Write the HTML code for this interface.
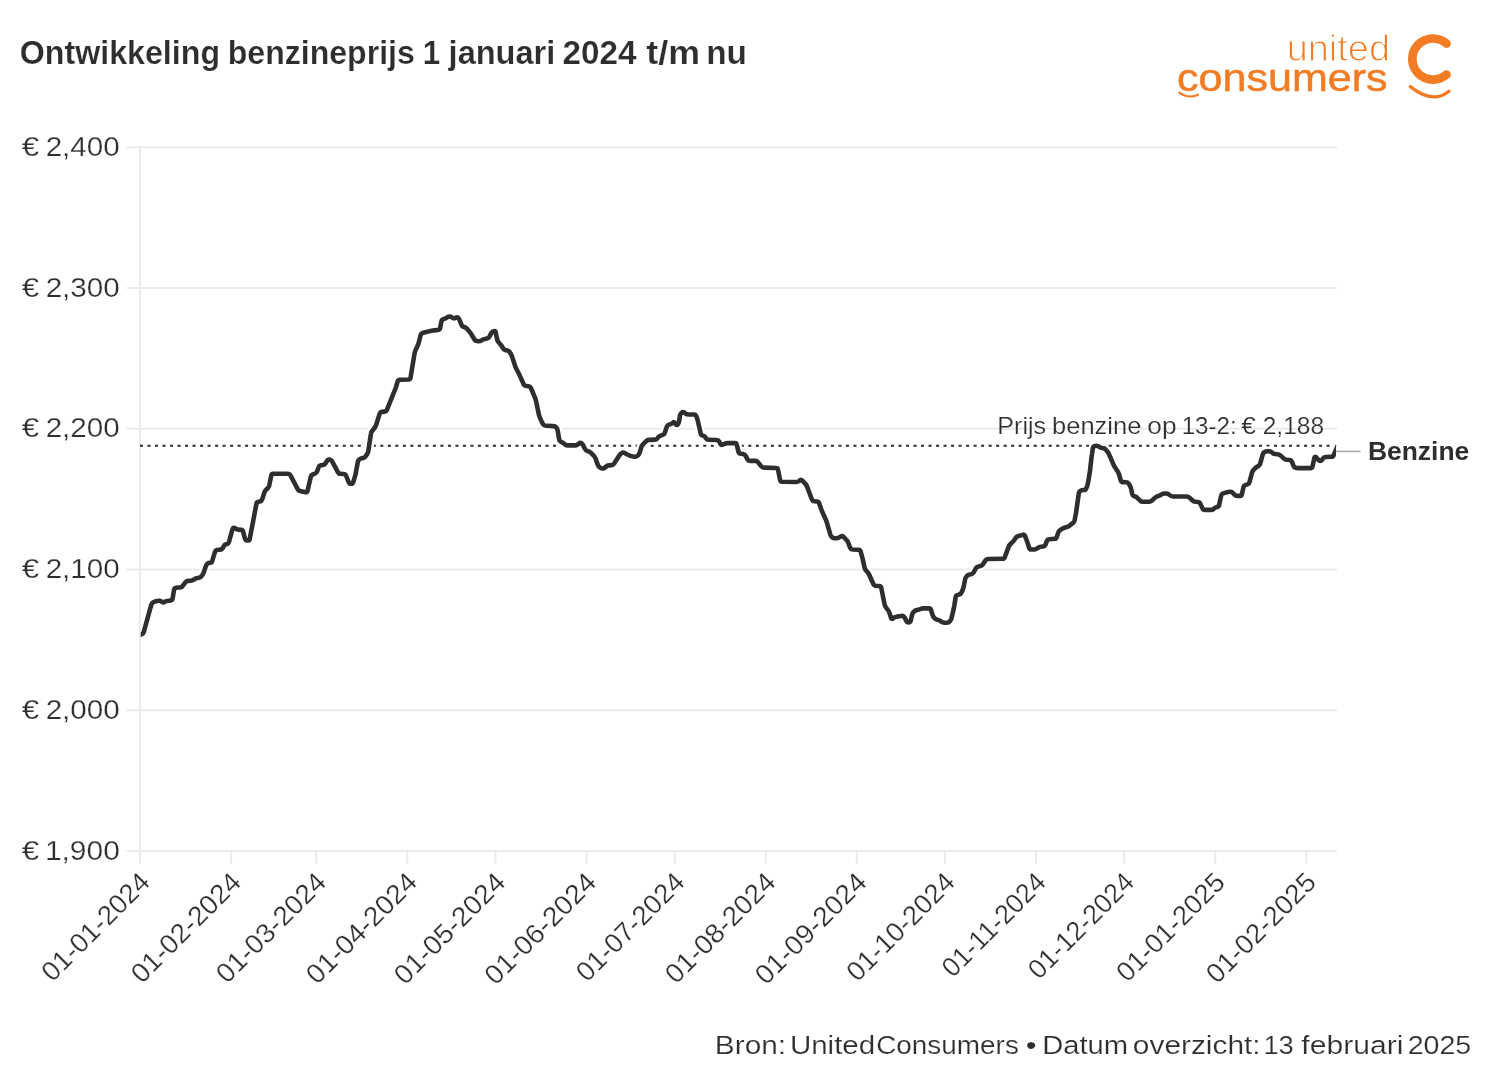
<!DOCTYPE html>
<html lang="nl"><head><meta charset="utf-8"><title>Ontwikkeling benzineprijs</title>
<style>
html,body{margin:0;padding:0;background:#fff;}
body{width:1491px;height:1080px;overflow:hidden;font-family:"Liberation Sans", sans-serif;}
svg{display:block;}
text{font-family:"Liberation Sans", sans-serif;}
.ax{fill:#2e2e2e;font-size:27.2px;stroke:#fff;stroke-width:0.25px;}
.t{fill:#2e2e2e;font-size:32.8px;font-weight:bold;stroke:#fff;stroke-width:0.2px;}
.f{fill:#2e2e2e;font-size:26.6px;stroke:#fff;stroke-width:0.2px;}
.an{fill:#2e2e2e;font-size:23.7px;stroke:#fff;stroke-width:0.2px;}
.bz{fill:#2e2e2e;font-size:26.7px;font-weight:bold;}
.lu{fill:#f27c24;font-size:36.6px;stroke:#fff;stroke-width:1.1px;}
.lc{fill:#f27c24;font-size:39.3px;stroke:#f27c24;stroke-width:0.5px;}
</style></head><body>
<svg width="1491" height="1080" viewBox="0 0 1491 1080">
<rect width="1491" height="1080" fill="#fff"/>

<g stroke="#eaeaea" stroke-width="2" fill="none">
<line x1="126.6" y1="147.3" x2="1336.9" y2="147.3"/>
<line x1="126.6" y1="288.05" x2="1336.9" y2="288.05"/>
<line x1="126.6" y1="428.8" x2="1336.9" y2="428.8"/>
<line x1="126.6" y1="569.55" x2="1336.9" y2="569.55"/>
<line x1="126.6" y1="710.3" x2="1336.9" y2="710.3"/>
<line x1="126.6" y1="851.0" x2="1336.9" y2="851.0"/>
<line x1="140" y1="147.3" x2="140" y2="863.7"/>
<line x1="231.1" y1="851" x2="231.1" y2="863.7"/>
<line x1="316.3" y1="851" x2="316.3" y2="863.7"/>
<line x1="407.3" y1="851" x2="407.3" y2="863.7"/>
<line x1="495.5" y1="851" x2="495.5" y2="863.7"/>
<line x1="586.5" y1="851" x2="586.5" y2="863.7"/>
<line x1="674.7" y1="851" x2="674.7" y2="863.7"/>
<line x1="765.8" y1="851" x2="765.8" y2="863.7"/>
<line x1="856.8" y1="851" x2="856.8" y2="863.7"/>
<line x1="945.0" y1="851" x2="945.0" y2="863.7"/>
<line x1="1036.0" y1="851" x2="1036.0" y2="863.7"/>
<line x1="1124.2" y1="851" x2="1124.2" y2="863.7"/>
<line x1="1215.2" y1="851" x2="1215.2" y2="863.7"/>
<line x1="1306.3" y1="851" x2="1306.3" y2="863.7"/>
</g>
<g class="ax">
<text id="xl0" transform="translate(151.5,883.8) rotate(-45)" text-anchor="end" textLength="139.9" lengthAdjust="spacingAndGlyphs">01-01-2024</text>
<text id="xl1" transform="translate(242.6,883.8) rotate(-45)" text-anchor="end" textLength="142.4" lengthAdjust="spacingAndGlyphs">01-02-2024</text>
<text id="xl2" transform="translate(327.8,883.8) rotate(-45)" text-anchor="end" textLength="142.5" lengthAdjust="spacingAndGlyphs">01-03-2024</text>
<text id="xl3" transform="translate(418.8,883.8) rotate(-45)" text-anchor="end" textLength="143.8" lengthAdjust="spacingAndGlyphs">01-04-2024</text>
<text id="xl4" transform="translate(507.0,883.8) rotate(-45)" text-anchor="end" textLength="144.4" lengthAdjust="spacingAndGlyphs">01-05-2024</text>
<text id="xl5" transform="translate(598.0,883.8) rotate(-45)" text-anchor="end" textLength="144.9" lengthAdjust="spacingAndGlyphs">01-06-2024</text>
<text id="xl6" transform="translate(686.2,883.8) rotate(-45)" text-anchor="end" textLength="140.3" lengthAdjust="spacingAndGlyphs">01-07-2024</text>
<text id="xl7" transform="translate(777.3,883.8) rotate(-45)" text-anchor="end" textLength="143.1" lengthAdjust="spacingAndGlyphs">01-08-2024</text>
<text id="xl8" transform="translate(868.3,883.8) rotate(-45)" text-anchor="end" textLength="144.7" lengthAdjust="spacingAndGlyphs">01-09-2024</text>
<text id="xl9" transform="translate(956.5,883.8) rotate(-45)" text-anchor="end" textLength="140.1" lengthAdjust="spacingAndGlyphs">01-10-2024</text>
<text id="xl10" transform="translate(1047.5,883.8) rotate(-45)" text-anchor="end" textLength="134.1" lengthAdjust="spacingAndGlyphs">01-11-2024</text>
<text id="xl11" transform="translate(1135.7,883.8) rotate(-45)" text-anchor="end" textLength="136.6" lengthAdjust="spacingAndGlyphs">01-12-2024</text>
<text id="xl12" transform="translate(1226.7,883.8) rotate(-45)" text-anchor="end" textLength="140.8" lengthAdjust="spacingAndGlyphs">01-01-2025</text>
<text id="xl13" transform="translate(1317.8,883.8) rotate(-45)" text-anchor="end" textLength="142.7" lengthAdjust="spacingAndGlyphs">01-02-2025</text>
</g>
<line x1="140" y1="445.75" x2="1336.2" y2="445.75" stroke="#2a2a2a" stroke-width="2" stroke-dasharray="3 4.51"/>
<line x1="1336" y1="451.4" x2="1360.6" y2="451.4" stroke="#a6a6a6" stroke-width="1.5"/>
<clipPath id="cp"><rect x="140.8" y="140" width="1195.2" height="715"/></clipPath>
<path d="M137.5,636.5L139.8,635.1Q141.2,634.3 142.3,633.8L142.3,633.8Q143.4,633.3 143.8,631.8L151.1,605.3Q151.5,603.8 152.5,602.8L152.5,602.8Q153.5,601.8 155.1,601.5L158.6,600.8Q160.2,600.5 161.5,601.5L162.0,601.9Q163.3,602.9 164.4,602.0L164.4,602.0Q165.5,601.2 167.1,601.0L170.7,600.4Q172.3,600.2 172.6,598.6L174.0,590.0Q174.3,588.4 175.3,588.0L175.3,588.0Q176.3,587.5 177.9,587.5L180.0,587.5Q181.6,587.5 182.5,586.2L185.4,582.3Q186.3,581.0 187.9,580.9L190.8,580.7Q192.4,580.6 193.7,579.7L194.4,579.3Q195.7,578.4 197.3,578.1L198.8,577.7Q200.4,577.4 201.5,576.2L202.0,575.5Q203.1,574.3 203.6,572.8L206.0,565.8Q206.5,564.3 207.5,563.6L207.5,563.6Q208.5,562.9 210.1,562.8L210.2,562.8Q211.8,562.7 212.2,561.2L214.8,552.4Q215.2,550.9 216.2,550.3L216.2,550.3Q217.2,549.8 218.8,549.7L220.3,549.6Q221.9,549.5 222.7,548.1L223.8,546.2Q224.6,544.8 226.1,544.3L227.1,544.0Q228.6,543.5 229.0,542.0L232.2,530.2Q232.6,528.7 233.3,528.0L233.3,528.0Q234.0,527.4 235.3,528.4L235.3,528.4Q236.6,529.4 238.2,529.6L241.1,529.9Q242.7,530.1 243.1,531.6L245.0,538.6Q245.4,540.1 247.0,540.4L247.8,540.5Q249.4,540.8 249.7,539.2L256.5,503.5Q256.8,501.9 258.4,501.7L259.9,501.5Q261.5,501.3 262.0,499.8L264.6,492.0Q265.1,490.5 266.3,489.5L267.7,488.2Q268.9,487.2 269.2,485.6L271.3,475.4Q271.6,473.8 273.2,473.8L288.1,473.8Q289.7,473.8 290.4,475.2L297.7,489.1Q298.4,490.5 300.0,490.9L305.5,492.2Q307.1,492.6 307.5,491.0L310.8,476.7Q311.2,475.1 312.7,474.5L315.0,473.7Q316.5,473.1 317.0,471.6L318.7,467.0Q319.2,465.5 320.8,465.3L323.0,465.0Q324.6,464.8 325.4,463.4L327.1,460.7Q327.9,459.3 329.5,459.5L329.7,459.5Q331.3,459.7 332.0,461.1L338.0,472.4Q338.7,473.8 340.3,473.8L343.8,474.0Q345.4,474.0 346.0,475.5L348.8,482.3Q349.4,483.8 351.0,483.8L351.1,483.8Q352.7,483.8 353.2,482.3L354.9,476.6Q355.4,475.1 355.7,473.5L357.8,462.0Q358.1,460.4 359.4,459.4L359.5,459.4Q360.8,458.4 362.4,458.1L363.2,458.0Q364.8,457.7 365.7,456.3L367.3,453.7Q368.2,452.3 368.4,450.7L370.9,433.8Q371.1,432.2 372.1,431.0L374.5,428.0Q375.5,426.8 376.0,425.3L379.7,413.6Q380.2,412.1 381.8,411.9L384.7,411.6Q386.3,411.4 386.9,409.9L394.9,390.0Q395.5,388.5 396.0,387.0L397.7,381.3Q398.2,379.8 399.8,379.7L408.6,379.5Q410.2,379.4 410.5,377.8L414.6,353.2Q414.9,351.6 415.6,350.1L417.6,345.8Q418.3,344.3 418.7,342.7L420.6,335.1Q421.0,333.5 422.5,333.0L426.2,332.0Q427.7,331.5 429.3,331.2L432.8,330.5Q434.4,330.2 436.0,330.1L438.2,329.9Q439.8,329.8 440.1,328.2L441.5,321.1Q441.8,319.5 443.4,319.2L443.5,319.1Q445.1,318.8 446.4,317.9L447.2,317.3Q448.5,316.4 449.9,316.6L449.9,316.6Q451.2,316.8 452.5,317.8L452.5,317.8Q453.8,318.8 455.2,318.0L455.8,317.6Q457.2,316.8 458.2,317.8L458.2,317.8Q459.2,318.8 459.7,320.3L461.4,324.7Q461.9,326.2 463.4,326.7L464.4,327.0Q465.9,327.5 467.0,328.7L469.5,331.7Q470.6,332.9 471.4,334.3L474.5,339.5Q475.3,340.9 476.9,341.0L478.4,341.2Q480.0,341.3 481.4,340.5L482.6,339.7Q484.0,338.9 485.6,338.7L487.1,338.4Q488.7,338.2 489.4,336.8L491.4,332.9Q492.1,331.5 493.7,331.2L493.8,331.2Q495.4,330.9 495.7,332.5L497.1,339.3Q497.4,340.9 498.5,342.1L500.4,344.4Q501.5,345.6 502.3,347.0L503.3,348.5Q504.1,349.9 505.7,350.2L507.2,350.4Q508.8,350.7 509.7,352.1L510.6,353.6Q511.5,355.0 512.0,356.5L515.0,365.6Q515.5,367.1 516.2,368.5L518.9,373.7Q519.6,375.1 520.2,376.6L523.7,384.3Q524.3,385.8 525.9,386.0L528.7,386.3Q530.3,386.5 530.9,388.0L535.1,397.8Q535.7,399.3 536.0,400.9L538.7,413.8Q539.0,415.4 539.6,416.9L541.8,421.9Q542.4,423.4 543.4,424.6L543.4,424.6Q544.4,425.8 546.0,425.8L553.5,426.1Q555.1,426.1 556.1,427.4L556.4,427.7Q557.4,429.0 557.7,430.6L559.2,439.5Q559.5,441.1 560.9,441.8L562.1,442.4Q563.5,443.1 564.7,444.1L565.0,444.4Q566.2,445.4 567.8,445.4L575.3,445.4Q576.9,445.4 578.1,444.3L579.0,443.5Q580.2,442.4 581.5,443.4L581.6,443.4Q582.9,444.4 583.5,445.9L585.0,449.0Q585.6,450.5 587.1,450.9L588.1,451.2Q589.6,451.6 590.7,452.7L593.9,455.8Q595.0,456.9 595.5,458.4L597.9,465.1Q598.4,466.6 599.8,467.4L600.3,467.8Q601.7,468.6 603.0,468.5L603.0,468.5Q604.4,468.3 605.5,467.1L606.0,466.7Q607.1,465.5 608.7,465.4L611.5,465.1Q613.1,465.0 614.0,463.7L619.6,455.1Q620.5,453.8 621.9,453.0L621.9,453.0Q623.2,452.1 624.6,452.9L627.1,454.4Q628.5,455.2 630.0,455.7L632.4,456.4Q633.9,456.9 635.5,456.7L635.7,456.7Q637.3,456.5 638.3,455.2L638.3,455.1Q639.3,453.8 639.8,452.3L641.4,446.9Q641.9,445.4 643.0,444.3L646.2,441.1Q647.3,440.0 648.9,439.9L655.1,439.6Q656.7,439.5 657.6,438.2L658.5,437.0Q659.4,435.7 661.0,435.4L662.5,435.0Q664.1,434.7 664.6,433.2L666.9,426.5Q667.4,425.0 668.9,424.6L670.6,424.1Q672.1,423.7 673.1,422.6L673.1,422.6Q674.1,421.6 675.0,422.9L675.9,424.4Q676.8,425.7 677.8,424.4L677.8,424.3Q678.8,423.0 679.1,421.4L679.9,415.9Q680.2,414.3 681.3,413.2L681.8,412.7Q682.9,411.6 684.2,412.5L685.6,413.6Q686.9,414.5 688.5,414.5L694.0,414.5Q695.6,414.5 696.2,416.0L697.0,418.1Q697.6,419.6 697.9,421.2L700.7,433.5Q701.0,435.1 702.6,435.4L702.7,435.4Q704.3,435.7 705.2,437.0L706.1,438.5Q707.0,439.8 708.6,439.8L716.8,440.0Q718.4,440.0 719.1,441.4L720.4,444.0Q721.1,445.4 722.5,444.7L724.4,443.8Q725.8,443.1 727.4,443.1L734.9,443.1Q736.5,443.1 736.8,444.7L738.5,451.9Q738.8,453.5 740.4,453.7L743.2,454.0Q744.8,454.2 745.5,455.6L747.5,459.5Q748.2,460.9 749.8,460.9L755.3,460.9Q756.9,460.9 757.9,462.1L761.3,466.4Q762.3,467.6 763.9,467.6L776.1,468.0Q777.7,468.0 778.0,469.6L780.1,480.1Q780.4,481.7 782.0,481.7L796.2,482.0Q797.8,482.0 799.1,481.0L799.9,480.3Q801.2,479.3 802.3,480.5L805.4,483.9Q806.5,485.1 807.1,486.6L812.0,499.7Q812.6,501.2 814.2,501.3L817.0,501.5Q818.6,501.6 819.1,503.1L821.4,509.7Q821.9,511.2 822.6,512.6L825.3,518.5Q826.0,519.9 826.5,521.4L828.2,527.2Q828.7,528.7 829.1,530.2L830.3,534.5Q830.7,536.0 831.9,537.1L832.1,537.2Q833.3,538.3 834.9,538.3L836.4,538.3Q838.0,538.3 839.3,537.4L840.8,536.5Q842.1,535.6 843.3,536.7L846.2,539.6Q847.4,540.7 848.0,542.2L850.2,547.9Q850.8,549.4 852.4,549.5L858.6,549.7Q860.2,549.8 860.6,551.3L862.3,557.5Q862.7,559.0 863.0,560.6L864.5,567.5Q864.8,569.1 865.8,570.3L867.8,572.6Q868.8,573.8 869.4,575.3L873.5,584.3Q874.1,585.8 875.7,585.9L879.3,586.0Q880.9,586.1 881.2,587.7L884.6,604.4Q884.9,606.0 885.9,607.3L887.9,610.0Q888.9,611.3 889.4,612.8L891.1,617.9Q891.6,619.4 892.9,618.5L893.6,617.9Q894.9,617.0 896.5,616.8L897.4,616.6Q899.0,616.4 900.6,616.1L901.4,615.9Q903.0,615.6 904.0,616.8L904.0,616.8Q905.0,618.0 905.6,619.5L906.4,621.2Q907.0,622.7 908.6,622.5L908.8,622.5Q910.4,622.3 910.7,620.7L912.1,614.9Q912.4,613.3 913.5,612.1L914.0,611.5Q915.1,610.3 916.7,610.1L917.5,609.9Q919.1,609.7 920.5,609.0L920.5,609.0Q921.8,608.4 923.4,608.4L928.9,608.4Q930.5,608.4 931.0,609.9L932.7,615.2Q933.2,616.7 934.3,617.9L934.7,618.2Q935.8,619.4 937.4,619.7L937.6,619.8Q939.2,620.1 940.5,621.1L941.3,621.7Q942.6,622.7 944.2,622.7L947.0,622.7Q948.6,622.7 949.6,621.5L950.3,620.6Q951.3,619.4 951.6,617.8L953.7,608.9Q954.0,607.3 954.3,605.7L955.7,596.8Q956.0,595.2 957.6,594.9L959.1,594.5Q960.7,594.2 961.4,592.7L962.6,590.0Q963.3,588.5 963.6,586.9L965.1,579.4Q965.4,577.8 966.4,576.6L967.0,576.0Q968.0,574.8 969.6,574.5L971.1,574.3Q972.7,574.0 973.5,572.6L976.0,568.2Q976.8,566.8 978.4,566.5L980.5,566.0Q982.1,565.7 982.9,564.3L985.4,560.4Q986.2,559.0 987.8,559.0L1002.7,558.8Q1004.3,558.8 1004.8,557.3L1008.5,547.1Q1009.0,545.6 1010.1,544.5L1011.9,542.7Q1013.0,541.6 1014.0,540.3L1016.0,537.5Q1017.0,536.2 1018.6,535.9L1019.4,535.8Q1021.0,535.5 1022.5,534.9L1022.9,534.8Q1024.4,534.2 1024.9,535.7L1026.6,540.1Q1027.1,541.6 1027.6,543.1L1029.2,547.9Q1029.7,549.4 1031.3,549.5L1034.2,549.5Q1035.8,549.6 1037.0,548.6L1037.9,547.9Q1039.1,546.9 1040.7,546.8L1043.2,546.5Q1044.8,546.4 1045.4,544.9L1046.9,540.9Q1047.5,539.4 1049.1,539.3L1054.6,538.8Q1056.2,538.7 1056.7,537.2L1058.4,532.2Q1058.9,530.7 1060.3,529.9L1062.2,528.8Q1063.6,528.0 1065.1,527.5L1066.8,527.1Q1068.3,526.6 1069.6,525.6L1073.0,522.9Q1074.3,521.9 1074.6,520.3L1076.0,512.8Q1076.3,511.2 1076.5,509.6L1078.8,493.4Q1079.0,491.8 1080.3,490.9L1080.4,490.9Q1081.7,490.0 1083.3,490.0L1084.1,490.0Q1085.7,490.0 1086.2,488.5L1087.2,485.9Q1087.7,484.4 1088.0,482.8L1089.5,473.9Q1089.8,472.3 1090.0,470.7L1091.6,456.5Q1091.8,454.9 1092.1,453.3L1092.8,448.4Q1093.1,446.8 1094.4,446.1L1094.4,446.1Q1095.8,445.5 1097.2,445.9L1097.2,445.9Q1098.5,446.2 1099.5,447.0L1099.5,447.0Q1100.5,447.9 1102.1,448.0L1102.9,448.1Q1104.5,448.2 1105.5,449.4L1107.5,451.7Q1108.5,452.9 1109.1,454.4L1113.3,464.1Q1113.9,465.6 1114.8,467.0L1117.7,471.6Q1118.6,473.0 1119.1,474.5L1120.8,480.5Q1121.3,482.0 1122.9,482.1L1126.4,482.3Q1128.0,482.4 1128.8,483.8L1129.9,485.7Q1130.7,487.1 1131.1,488.7L1132.3,494.2Q1132.7,495.8 1134.2,496.2L1134.5,496.3Q1136.0,496.7 1137.2,497.8L1140.2,500.7Q1141.4,501.8 1143.0,501.8L1149.2,501.8Q1150.8,501.8 1151.9,500.7L1155.1,497.6Q1156.2,496.5 1157.8,496.2L1157.9,496.1Q1159.5,495.8 1160.8,494.9L1161.6,494.4Q1162.9,493.5 1164.5,493.5L1166.0,493.5Q1167.6,493.5 1168.9,494.5L1170.3,495.5Q1171.6,496.5 1173.2,496.5L1186.7,496.5Q1188.3,496.5 1189.5,497.6L1192.5,500.5Q1193.7,501.6 1195.3,501.7L1198.1,502.0Q1199.7,502.1 1200.3,503.6L1202.5,508.4Q1203.1,509.9 1204.7,509.9L1210.9,509.9Q1212.5,509.9 1213.7,508.9L1214.3,508.3Q1215.5,507.3 1217.1,507.0L1217.2,506.9Q1218.8,506.6 1219.1,505.0L1221.2,495.5Q1221.5,493.9 1223.0,493.4L1224.0,493.1Q1225.5,492.6 1227.1,492.3L1230.0,491.8Q1231.6,491.5 1232.7,492.7L1234.5,494.7Q1235.6,495.9 1237.2,495.9L1240.0,495.9Q1241.6,495.9 1241.9,494.3L1243.4,487.4Q1243.7,485.8 1245.2,485.2L1247.5,484.4Q1249.0,483.8 1249.4,482.3L1252.0,472.6Q1252.4,471.1 1253.5,470.0L1254.6,468.8Q1255.7,467.7 1257.1,466.8L1258.4,466.0Q1259.8,465.1 1260.2,463.6L1262.7,454.5Q1263.1,453.0 1264.4,452.1L1264.5,452.1Q1265.8,451.2 1267.4,451.2L1268.9,451.2Q1270.5,451.2 1271.7,452.2L1272.6,452.9Q1273.8,453.9 1275.4,454.0L1277.6,454.2Q1279.2,454.3 1280.4,455.4L1284.0,458.6Q1285.2,459.7 1286.8,459.8L1289.7,460.0Q1291.3,460.1 1291.9,461.6L1293.4,465.6Q1294.0,467.1 1295.3,467.6L1295.3,467.6Q1296.6,468.1 1298.2,468.1L1310.5,468.1Q1312.1,468.1 1312.5,466.5L1314.4,457.9Q1314.8,456.3 1315.7,456.9L1315.7,456.9Q1316.5,457.5 1317.5,458.8L1318.2,459.6Q1319.2,460.9 1320.3,460.9L1320.3,460.9Q1321.5,461.0 1322.3,459.6L1323.0,458.4Q1323.8,457.0 1325.4,457.0L1331.4,456.8Q1333.0,456.8 1333.6,455.3L1338.2,444.5" clip-path="url(#cp)" fill="none" stroke="#fff" stroke-width="9.4" stroke-linejoin="round" stroke-linecap="butt"/>
<path d="M137.5,636.5L139.8,635.1Q141.2,634.3 142.3,633.8L142.3,633.8Q143.4,633.3 143.8,631.8L151.1,605.3Q151.5,603.8 152.5,602.8L152.5,602.8Q153.5,601.8 155.1,601.5L158.6,600.8Q160.2,600.5 161.5,601.5L162.0,601.9Q163.3,602.9 164.4,602.0L164.4,602.0Q165.5,601.2 167.1,601.0L170.7,600.4Q172.3,600.2 172.6,598.6L174.0,590.0Q174.3,588.4 175.3,588.0L175.3,588.0Q176.3,587.5 177.9,587.5L180.0,587.5Q181.6,587.5 182.5,586.2L185.4,582.3Q186.3,581.0 187.9,580.9L190.8,580.7Q192.4,580.6 193.7,579.7L194.4,579.3Q195.7,578.4 197.3,578.1L198.8,577.7Q200.4,577.4 201.5,576.2L202.0,575.5Q203.1,574.3 203.6,572.8L206.0,565.8Q206.5,564.3 207.5,563.6L207.5,563.6Q208.5,562.9 210.1,562.8L210.2,562.8Q211.8,562.7 212.2,561.2L214.8,552.4Q215.2,550.9 216.2,550.3L216.2,550.3Q217.2,549.8 218.8,549.7L220.3,549.6Q221.9,549.5 222.7,548.1L223.8,546.2Q224.6,544.8 226.1,544.3L227.1,544.0Q228.6,543.5 229.0,542.0L232.2,530.2Q232.6,528.7 233.3,528.0L233.3,528.0Q234.0,527.4 235.3,528.4L235.3,528.4Q236.6,529.4 238.2,529.6L241.1,529.9Q242.7,530.1 243.1,531.6L245.0,538.6Q245.4,540.1 247.0,540.4L247.8,540.5Q249.4,540.8 249.7,539.2L256.5,503.5Q256.8,501.9 258.4,501.7L259.9,501.5Q261.5,501.3 262.0,499.8L264.6,492.0Q265.1,490.5 266.3,489.5L267.7,488.2Q268.9,487.2 269.2,485.6L271.3,475.4Q271.6,473.8 273.2,473.8L288.1,473.8Q289.7,473.8 290.4,475.2L297.7,489.1Q298.4,490.5 300.0,490.9L305.5,492.2Q307.1,492.6 307.5,491.0L310.8,476.7Q311.2,475.1 312.7,474.5L315.0,473.7Q316.5,473.1 317.0,471.6L318.7,467.0Q319.2,465.5 320.8,465.3L323.0,465.0Q324.6,464.8 325.4,463.4L327.1,460.7Q327.9,459.3 329.5,459.5L329.7,459.5Q331.3,459.7 332.0,461.1L338.0,472.4Q338.7,473.8 340.3,473.8L343.8,474.0Q345.4,474.0 346.0,475.5L348.8,482.3Q349.4,483.8 351.0,483.8L351.1,483.8Q352.7,483.8 353.2,482.3L354.9,476.6Q355.4,475.1 355.7,473.5L357.8,462.0Q358.1,460.4 359.4,459.4L359.5,459.4Q360.8,458.4 362.4,458.1L363.2,458.0Q364.8,457.7 365.7,456.3L367.3,453.7Q368.2,452.3 368.4,450.7L370.9,433.8Q371.1,432.2 372.1,431.0L374.5,428.0Q375.5,426.8 376.0,425.3L379.7,413.6Q380.2,412.1 381.8,411.9L384.7,411.6Q386.3,411.4 386.9,409.9L394.9,390.0Q395.5,388.5 396.0,387.0L397.7,381.3Q398.2,379.8 399.8,379.7L408.6,379.5Q410.2,379.4 410.5,377.8L414.6,353.2Q414.9,351.6 415.6,350.1L417.6,345.8Q418.3,344.3 418.7,342.7L420.6,335.1Q421.0,333.5 422.5,333.0L426.2,332.0Q427.7,331.5 429.3,331.2L432.8,330.5Q434.4,330.2 436.0,330.1L438.2,329.9Q439.8,329.8 440.1,328.2L441.5,321.1Q441.8,319.5 443.4,319.2L443.5,319.1Q445.1,318.8 446.4,317.9L447.2,317.3Q448.5,316.4 449.9,316.6L449.9,316.6Q451.2,316.8 452.5,317.8L452.5,317.8Q453.8,318.8 455.2,318.0L455.8,317.6Q457.2,316.8 458.2,317.8L458.2,317.8Q459.2,318.8 459.7,320.3L461.4,324.7Q461.9,326.2 463.4,326.7L464.4,327.0Q465.9,327.5 467.0,328.7L469.5,331.7Q470.6,332.9 471.4,334.3L474.5,339.5Q475.3,340.9 476.9,341.0L478.4,341.2Q480.0,341.3 481.4,340.5L482.6,339.7Q484.0,338.9 485.6,338.7L487.1,338.4Q488.7,338.2 489.4,336.8L491.4,332.9Q492.1,331.5 493.7,331.2L493.8,331.2Q495.4,330.9 495.7,332.5L497.1,339.3Q497.4,340.9 498.5,342.1L500.4,344.4Q501.5,345.6 502.3,347.0L503.3,348.5Q504.1,349.9 505.7,350.2L507.2,350.4Q508.8,350.7 509.7,352.1L510.6,353.6Q511.5,355.0 512.0,356.5L515.0,365.6Q515.5,367.1 516.2,368.5L518.9,373.7Q519.6,375.1 520.2,376.6L523.7,384.3Q524.3,385.8 525.9,386.0L528.7,386.3Q530.3,386.5 530.9,388.0L535.1,397.8Q535.7,399.3 536.0,400.9L538.7,413.8Q539.0,415.4 539.6,416.9L541.8,421.9Q542.4,423.4 543.4,424.6L543.4,424.6Q544.4,425.8 546.0,425.8L553.5,426.1Q555.1,426.1 556.1,427.4L556.4,427.7Q557.4,429.0 557.7,430.6L559.2,439.5Q559.5,441.1 560.9,441.8L562.1,442.4Q563.5,443.1 564.7,444.1L565.0,444.4Q566.2,445.4 567.8,445.4L575.3,445.4Q576.9,445.4 578.1,444.3L579.0,443.5Q580.2,442.4 581.5,443.4L581.6,443.4Q582.9,444.4 583.5,445.9L585.0,449.0Q585.6,450.5 587.1,450.9L588.1,451.2Q589.6,451.6 590.7,452.7L593.9,455.8Q595.0,456.9 595.5,458.4L597.9,465.1Q598.4,466.6 599.8,467.4L600.3,467.8Q601.7,468.6 603.0,468.5L603.0,468.5Q604.4,468.3 605.5,467.1L606.0,466.7Q607.1,465.5 608.7,465.4L611.5,465.1Q613.1,465.0 614.0,463.7L619.6,455.1Q620.5,453.8 621.9,453.0L621.9,453.0Q623.2,452.1 624.6,452.9L627.1,454.4Q628.5,455.2 630.0,455.7L632.4,456.4Q633.9,456.9 635.5,456.7L635.7,456.7Q637.3,456.5 638.3,455.2L638.3,455.1Q639.3,453.8 639.8,452.3L641.4,446.9Q641.9,445.4 643.0,444.3L646.2,441.1Q647.3,440.0 648.9,439.9L655.1,439.6Q656.7,439.5 657.6,438.2L658.5,437.0Q659.4,435.7 661.0,435.4L662.5,435.0Q664.1,434.7 664.6,433.2L666.9,426.5Q667.4,425.0 668.9,424.6L670.6,424.1Q672.1,423.7 673.1,422.6L673.1,422.6Q674.1,421.6 675.0,422.9L675.9,424.4Q676.8,425.7 677.8,424.4L677.8,424.3Q678.8,423.0 679.1,421.4L679.9,415.9Q680.2,414.3 681.3,413.2L681.8,412.7Q682.9,411.6 684.2,412.5L685.6,413.6Q686.9,414.5 688.5,414.5L694.0,414.5Q695.6,414.5 696.2,416.0L697.0,418.1Q697.6,419.6 697.9,421.2L700.7,433.5Q701.0,435.1 702.6,435.4L702.7,435.4Q704.3,435.7 705.2,437.0L706.1,438.5Q707.0,439.8 708.6,439.8L716.8,440.0Q718.4,440.0 719.1,441.4L720.4,444.0Q721.1,445.4 722.5,444.7L724.4,443.8Q725.8,443.1 727.4,443.1L734.9,443.1Q736.5,443.1 736.8,444.7L738.5,451.9Q738.8,453.5 740.4,453.7L743.2,454.0Q744.8,454.2 745.5,455.6L747.5,459.5Q748.2,460.9 749.8,460.9L755.3,460.9Q756.9,460.9 757.9,462.1L761.3,466.4Q762.3,467.6 763.9,467.6L776.1,468.0Q777.7,468.0 778.0,469.6L780.1,480.1Q780.4,481.7 782.0,481.7L796.2,482.0Q797.8,482.0 799.1,481.0L799.9,480.3Q801.2,479.3 802.3,480.5L805.4,483.9Q806.5,485.1 807.1,486.6L812.0,499.7Q812.6,501.2 814.2,501.3L817.0,501.5Q818.6,501.6 819.1,503.1L821.4,509.7Q821.9,511.2 822.6,512.6L825.3,518.5Q826.0,519.9 826.5,521.4L828.2,527.2Q828.7,528.7 829.1,530.2L830.3,534.5Q830.7,536.0 831.9,537.1L832.1,537.2Q833.3,538.3 834.9,538.3L836.4,538.3Q838.0,538.3 839.3,537.4L840.8,536.5Q842.1,535.6 843.3,536.7L846.2,539.6Q847.4,540.7 848.0,542.2L850.2,547.9Q850.8,549.4 852.4,549.5L858.6,549.7Q860.2,549.8 860.6,551.3L862.3,557.5Q862.7,559.0 863.0,560.6L864.5,567.5Q864.8,569.1 865.8,570.3L867.8,572.6Q868.8,573.8 869.4,575.3L873.5,584.3Q874.1,585.8 875.7,585.9L879.3,586.0Q880.9,586.1 881.2,587.7L884.6,604.4Q884.9,606.0 885.9,607.3L887.9,610.0Q888.9,611.3 889.4,612.8L891.1,617.9Q891.6,619.4 892.9,618.5L893.6,617.9Q894.9,617.0 896.5,616.8L897.4,616.6Q899.0,616.4 900.6,616.1L901.4,615.9Q903.0,615.6 904.0,616.8L904.0,616.8Q905.0,618.0 905.6,619.5L906.4,621.2Q907.0,622.7 908.6,622.5L908.8,622.5Q910.4,622.3 910.7,620.7L912.1,614.9Q912.4,613.3 913.5,612.1L914.0,611.5Q915.1,610.3 916.7,610.1L917.5,609.9Q919.1,609.7 920.5,609.0L920.5,609.0Q921.8,608.4 923.4,608.4L928.9,608.4Q930.5,608.4 931.0,609.9L932.7,615.2Q933.2,616.7 934.3,617.9L934.7,618.2Q935.8,619.4 937.4,619.7L937.6,619.8Q939.2,620.1 940.5,621.1L941.3,621.7Q942.6,622.7 944.2,622.7L947.0,622.7Q948.6,622.7 949.6,621.5L950.3,620.6Q951.3,619.4 951.6,617.8L953.7,608.9Q954.0,607.3 954.3,605.7L955.7,596.8Q956.0,595.2 957.6,594.9L959.1,594.5Q960.7,594.2 961.4,592.7L962.6,590.0Q963.3,588.5 963.6,586.9L965.1,579.4Q965.4,577.8 966.4,576.6L967.0,576.0Q968.0,574.8 969.6,574.5L971.1,574.3Q972.7,574.0 973.5,572.6L976.0,568.2Q976.8,566.8 978.4,566.5L980.5,566.0Q982.1,565.7 982.9,564.3L985.4,560.4Q986.2,559.0 987.8,559.0L1002.7,558.8Q1004.3,558.8 1004.8,557.3L1008.5,547.1Q1009.0,545.6 1010.1,544.5L1011.9,542.7Q1013.0,541.6 1014.0,540.3L1016.0,537.5Q1017.0,536.2 1018.6,535.9L1019.4,535.8Q1021.0,535.5 1022.5,534.9L1022.9,534.8Q1024.4,534.2 1024.9,535.7L1026.6,540.1Q1027.1,541.6 1027.6,543.1L1029.2,547.9Q1029.7,549.4 1031.3,549.5L1034.2,549.5Q1035.8,549.6 1037.0,548.6L1037.9,547.9Q1039.1,546.9 1040.7,546.8L1043.2,546.5Q1044.8,546.4 1045.4,544.9L1046.9,540.9Q1047.5,539.4 1049.1,539.3L1054.6,538.8Q1056.2,538.7 1056.7,537.2L1058.4,532.2Q1058.9,530.7 1060.3,529.9L1062.2,528.8Q1063.6,528.0 1065.1,527.5L1066.8,527.1Q1068.3,526.6 1069.6,525.6L1073.0,522.9Q1074.3,521.9 1074.6,520.3L1076.0,512.8Q1076.3,511.2 1076.5,509.6L1078.8,493.4Q1079.0,491.8 1080.3,490.9L1080.4,490.9Q1081.7,490.0 1083.3,490.0L1084.1,490.0Q1085.7,490.0 1086.2,488.5L1087.2,485.9Q1087.7,484.4 1088.0,482.8L1089.5,473.9Q1089.8,472.3 1090.0,470.7L1091.6,456.5Q1091.8,454.9 1092.1,453.3L1092.8,448.4Q1093.1,446.8 1094.4,446.1L1094.4,446.1Q1095.8,445.5 1097.2,445.9L1097.2,445.9Q1098.5,446.2 1099.5,447.0L1099.5,447.0Q1100.5,447.9 1102.1,448.0L1102.9,448.1Q1104.5,448.2 1105.5,449.4L1107.5,451.7Q1108.5,452.9 1109.1,454.4L1113.3,464.1Q1113.9,465.6 1114.8,467.0L1117.7,471.6Q1118.6,473.0 1119.1,474.5L1120.8,480.5Q1121.3,482.0 1122.9,482.1L1126.4,482.3Q1128.0,482.4 1128.8,483.8L1129.9,485.7Q1130.7,487.1 1131.1,488.7L1132.3,494.2Q1132.7,495.8 1134.2,496.2L1134.5,496.3Q1136.0,496.7 1137.2,497.8L1140.2,500.7Q1141.4,501.8 1143.0,501.8L1149.2,501.8Q1150.8,501.8 1151.9,500.7L1155.1,497.6Q1156.2,496.5 1157.8,496.2L1157.9,496.1Q1159.5,495.8 1160.8,494.9L1161.6,494.4Q1162.9,493.5 1164.5,493.5L1166.0,493.5Q1167.6,493.5 1168.9,494.5L1170.3,495.5Q1171.6,496.5 1173.2,496.5L1186.7,496.5Q1188.3,496.5 1189.5,497.6L1192.5,500.5Q1193.7,501.6 1195.3,501.7L1198.1,502.0Q1199.7,502.1 1200.3,503.6L1202.5,508.4Q1203.1,509.9 1204.7,509.9L1210.9,509.9Q1212.5,509.9 1213.7,508.9L1214.3,508.3Q1215.5,507.3 1217.1,507.0L1217.2,506.9Q1218.8,506.6 1219.1,505.0L1221.2,495.5Q1221.5,493.9 1223.0,493.4L1224.0,493.1Q1225.5,492.6 1227.1,492.3L1230.0,491.8Q1231.6,491.5 1232.7,492.7L1234.5,494.7Q1235.6,495.9 1237.2,495.9L1240.0,495.9Q1241.6,495.9 1241.9,494.3L1243.4,487.4Q1243.7,485.8 1245.2,485.2L1247.5,484.4Q1249.0,483.8 1249.4,482.3L1252.0,472.6Q1252.4,471.1 1253.5,470.0L1254.6,468.8Q1255.7,467.7 1257.1,466.8L1258.4,466.0Q1259.8,465.1 1260.2,463.6L1262.7,454.5Q1263.1,453.0 1264.4,452.1L1264.5,452.1Q1265.8,451.2 1267.4,451.2L1268.9,451.2Q1270.5,451.2 1271.7,452.2L1272.6,452.9Q1273.8,453.9 1275.4,454.0L1277.6,454.2Q1279.2,454.3 1280.4,455.4L1284.0,458.6Q1285.2,459.7 1286.8,459.8L1289.7,460.0Q1291.3,460.1 1291.9,461.6L1293.4,465.6Q1294.0,467.1 1295.3,467.6L1295.3,467.6Q1296.6,468.1 1298.2,468.1L1310.5,468.1Q1312.1,468.1 1312.5,466.5L1314.4,457.9Q1314.8,456.3 1315.7,456.9L1315.7,456.9Q1316.5,457.5 1317.5,458.8L1318.2,459.6Q1319.2,460.9 1320.3,460.9L1320.3,460.9Q1321.5,461.0 1322.3,459.6L1323.0,458.4Q1323.8,457.0 1325.4,457.0L1331.4,456.8Q1333.0,456.8 1333.6,455.3L1338.2,444.5" clip-path="url(#cp)" fill="none" stroke="#2e2e2e" stroke-width="4.6" stroke-linejoin="round" stroke-linecap="butt"/>
<text class="t" y="63.8"><tspan id="t0" x="19.85" textLength="200.20" lengthAdjust="spacingAndGlyphs">Ontwikkeling</tspan> <tspan id="t1" x="227.75" textLength="187.05" lengthAdjust="spacingAndGlyphs">benzineprijs</tspan> <tspan id="t2" x="422.70" textLength="17.45" lengthAdjust="spacingAndGlyphs">1</tspan> <tspan id="t3" x="448.60" textLength="106.70" lengthAdjust="spacingAndGlyphs">januari</tspan> <tspan id="t4" x="562.45" textLength="74.00" lengthAdjust="spacingAndGlyphs">2024</tspan> <tspan id="t5" x="646.35" textLength="53.75" lengthAdjust="spacingAndGlyphs">t/m</tspan> <tspan id="t6" x="706.25" textLength="40.65" lengthAdjust="spacingAndGlyphs">nu</tspan></text>
<text class="ax" y="155.9"><tspan id="ye0" x="21.65" textLength="17.45" lengthAdjust="spacingAndGlyphs">€</tspan> <tspan id="yl0" x="45.65" textLength="74.15" lengthAdjust="spacingAndGlyphs">2,400</tspan></text>
<text class="ax" y="296.7"><tspan id="ye1" x="21.65" textLength="17.45" lengthAdjust="spacingAndGlyphs">€</tspan> <tspan id="yl1" x="45.65" textLength="74.15" lengthAdjust="spacingAndGlyphs">2,300</tspan></text>
<text class="ax" y="437.4"><tspan id="ye2" x="21.65" textLength="17.45" lengthAdjust="spacingAndGlyphs">€</tspan> <tspan id="yl2" x="45.65" textLength="74.15" lengthAdjust="spacingAndGlyphs">2,200</tspan></text>
<text class="ax" y="578.1"><tspan id="ye3" x="21.65" textLength="17.45" lengthAdjust="spacingAndGlyphs">€</tspan> <tspan id="yl3" x="45.65" textLength="74.15" lengthAdjust="spacingAndGlyphs">2,100</tspan></text>
<text class="ax" y="718.9"><tspan id="ye4" x="21.65" textLength="17.45" lengthAdjust="spacingAndGlyphs">€</tspan> <tspan id="yl4" x="45.65" textLength="74.15" lengthAdjust="spacingAndGlyphs">2,000</tspan></text>
<text class="ax" y="859.6"><tspan id="ye5" x="21.65" textLength="17.45" lengthAdjust="spacingAndGlyphs">€</tspan> <tspan id="yl5" x="44.90" textLength="74.90" lengthAdjust="spacingAndGlyphs">1,900</tspan></text>
<text class="an" y="433.5"><tspan id="an0" x="997.35" textLength="48.80" lengthAdjust="spacingAndGlyphs">Prijs</tspan> <tspan id="an1" x="1052.10" textLength="89.30" lengthAdjust="spacingAndGlyphs">benzine</tspan> <tspan id="an2" x="1147.25" textLength="29.30" lengthAdjust="spacingAndGlyphs">op</tspan> <tspan id="an3" x="1181.65" textLength="55.15" lengthAdjust="spacingAndGlyphs">13-2:</tspan> <tspan id="an4" x="1241.35" textLength="14.65" lengthAdjust="spacingAndGlyphs">€</tspan> <tspan id="an5" x="1262.70" textLength="61.40" lengthAdjust="spacingAndGlyphs">2,188</tspan></text>
<text class="bz" y="459.5"><tspan id="bz" x="1367.90" textLength="101.40" lengthAdjust="spacingAndGlyphs">Benzine</tspan></text>
<text class="f" y="1054.1"><tspan id="f0" x="714.80" textLength="71.35" lengthAdjust="spacingAndGlyphs">Bron:</tspan> <tspan id="f1" x="789.90" textLength="85.25" lengthAdjust="spacingAndGlyphs">United</tspan><tspan id="f2" x="876.20" textLength="142.65" lengthAdjust="spacingAndGlyphs">Consumers</tspan> <tspan id="f3" x="1025.85" textLength="10.75" lengthAdjust="spacingAndGlyphs">•</tspan> <tspan id="f4" x="1042.15" textLength="86.00" lengthAdjust="spacingAndGlyphs">Datum</tspan> <tspan id="f5" x="1132.85" textLength="127.80" lengthAdjust="spacingAndGlyphs">overzicht:</tspan> <tspan id="f6" x="1263.40" textLength="30.35" lengthAdjust="spacingAndGlyphs">13</tspan> <tspan id="f7" x="1301.30" textLength="102.10" lengthAdjust="spacingAndGlyphs">februari</tspan> <tspan id="f8" x="1407.65" textLength="63.65" lengthAdjust="spacingAndGlyphs">2025</tspan></text>
<text class="lu" y="60.6"><tspan id="lu" x="1286.65" textLength="103.40" lengthAdjust="spacingAndGlyphs">united</tspan></text>
<text class="lc" y="90.7"><tspan id="lc" x="1177.00" textLength="210.60" lengthAdjust="spacingAndGlyphs">consumers</tspan></text>
<g fill="none" stroke="#f27c24" stroke-linecap="round">
<path d="M1179.2,92.6 Q1188.4,99.1 1198,94.7" stroke-width="2.1"/>
<path d="M1446.5,43.6 A20.6,20.6 0 1 0 1446.5,74.6" stroke-width="8.7"/>
<path d="M1410.3,86.6 Q1433,104.5 1449,91.2" stroke-width="3.3"/>
</g>
</svg></body></html>
